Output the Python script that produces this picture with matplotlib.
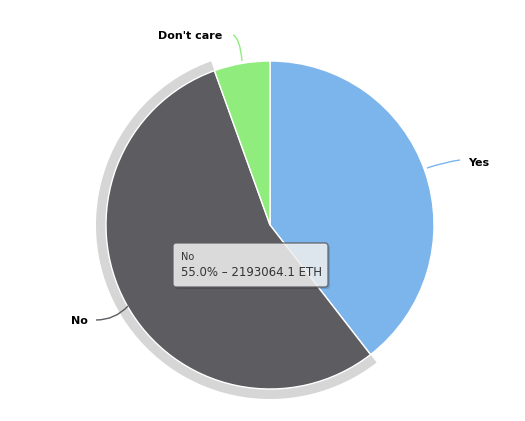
import numpy as np
import matplotlib.pyplot as plt
from matplotlib.patches import Wedge, FancyBboxPatch
from matplotlib.path import Path
from matplotlib.patches import PathPatch

labels = ['Yes', 'No', "Don't care"]
values = [1575000.0, 2193064.1, 219300.0]   # ETH
colors = ['#7cb5ec', '#5c5c61', '#90ed7d']
hover = 1  # index of highlighted slice

W, H = 525, 421
fig = plt.figure(figsize=(W / 100, H / 100), dpi=100)
ax = fig.add_axes([0, 0, 1, 1])

cx, cy, r = 270, H - 225, 164

total = sum(values)
pct = [v / total * 100 for v in values]

# halo behind the hovered slice
angs = [90 - 360 * sum(values[:i]) / total for i in range(len(values) + 1)]
a1, a2 = angs[hover + 1], angs[hover]
ax.add_patch(Wedge((cx, cy), r + 10, a1, a2, width=10, facecolor='#d6d6d6',
                   edgecolor='none', zorder=1))

ax.pie(values, colors=colors, center=(cx, cy), radius=r, startangle=90,
       counterclock=False, wedgeprops=dict(edgecolor='white', linewidth=1),
       frame=True)
ax.set_xlim(0, W)
ax.set_ylim(0, H)
ax.set_aspect('equal')
ax.axis('off')

# data labels with curved connectors
def connector(p0, pc, p1, color):
    path = Path([p0, pc, p1], [Path.MOVETO, Path.CURVE3, Path.CURVE3])
    ax.add_patch(PathPatch(path, facecolor='none', edgecolor=color, lw=1, zorder=3))

connector((427, H - 168), (445, H - 162), (460, H - 160), colors[0])
ax.text(468, H - 163, labels[0], fontsize=8, fontweight='bold', va='center', ha='left')

connector((242, H - 61), (240, H - 38), (233, H - 35), colors[2])
ax.text(222, H - 36, labels[2], fontsize=8, fontweight='bold', va='center', ha='right')

connector((128, H - 306), (115, H - 320), (96, H - 320), colors[1])
ax.text(88, H - 321, labels[1], fontsize=8, fontweight='bold', va='center', ha='right')

# tooltip
tx, ty, tw, th = 173, H - 287, 155, 44
ax.add_patch(FancyBboxPatch((tx + 2, ty - 2), tw, th, boxstyle='round,pad=0,rounding_size=3',
                            facecolor='black', alpha=0.15, edgecolor='none', zorder=4))
ax.add_patch(FancyBboxPatch((tx, ty), tw, th, boxstyle='round,pad=0,rounding_size=3',
                            facecolor='#f4f4f4', alpha=0.85, edgecolor='#5c5c61',
                            lw=1, zorder=5))
ax.text(tx + 8, ty + th - 14, labels[hover], fontsize=7, color='#333333', va='center', zorder=6)
ax.text(tx + 8, ty + th - 30, '%.1f%% \u2013 %.1f ETH' % (pct[hover], values[hover]),
        fontsize=8.5, color='#333333', va='center', zorder=6)

fig.savefig('out.png', dpi=100)
